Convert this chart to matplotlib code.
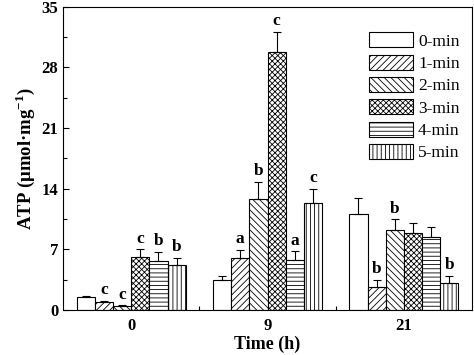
import matplotlib
matplotlib.use("Agg")
import matplotlib.pyplot as plt
import numpy as np

# ATP levels by treatment time
groups = ["0", "9", "21"]
series = ["0-min", "1-min", "2-min", "3-min", "4-min", "5-min"]
atp_0h = [1.45, 0.9, 0.45, 6.1, 5.6, 5.15]
atp_9h = [3.45, 6.0, 12.8, 29.8, 5.8, 12.4]
atp_21h = [11.05, 2.6, 9.25, 8.85, 8.45, 3.1]
err_0h = [0.1, 0.15, 0.1, 0.9, 1.1, 0.9]
err_9h = [0.5, 0.95, 2.0, 2.3, 0.95, 1.6]
err_21h = [1.9, 0.9, 1.2, 1.2, 1.1, 0.85]
sig_0h = ["", "c", "c", "c", "b", "b"]
sig_9h = ["", "a", "b", "c", "a", "c"]
sig_21h = ["", "b", "b", "", "", "b"]
hatches = ["", "/////", "\\\\\\\\\\", "xxxxxx", "----", "||||"]

plt.rcParams["font.family"] = "Liberation Serif"
plt.rcParams["mathtext.fontset"] = "custom"
plt.rcParams["mathtext.bf"] = "Liberation Serif:bold"
plt.rcParams["mathtext.rm"] = "Liberation Serif:bold"
plt.rcParams["hatch.linewidth"] = 0.6

values = np.array([atp_0h, atp_9h, atp_21h]).T
errors = np.array([err_0h, err_9h, err_21h]).T
letters = np.array([sig_0h, sig_9h, sig_21h]).T

fig = plt.figure(figsize=(4.74, 3.55), dpi=100)
ax = fig.add_axes([0.133, 0.127, 0.863, 0.854])

x = np.arange(len(groups))
width = 0.8 / len(series)
for i, name in enumerate(series):
    pos = x - 0.4 + width * (i + 0.5)
    ax.bar(pos, values[i], width, color="white", edgecolor="black",
           linewidth=0.8, hatch=hatches[i], label=name,
           yerr=[np.zeros(len(groups)), errors[i]],
           error_kw=dict(ecolor="black", elinewidth=0.8, capsize=3, capthick=0.8))
    for j in range(len(groups)):
        if letters[i][j]:
            ax.text(pos[j], values[i][j] + errors[i][j] + 0.3, letters[i][j],
                    ha="center", va="bottom", fontsize=12.5, fontweight="bold")

ax.set_xlim(-0.5, 2.5)
ax.set_ylim(0, 35)
ax.set_yticks(np.arange(0, 36, 7))
ax.set_yticks(np.arange(3.5, 35, 7), minor=True)
ax.set_xticks(x)
ax.set_xticks([0.5, 1.5], minor=True)
ax.set_xticklabels(groups)
ax.tick_params(which="both", direction="in", labelsize=12, width=0.8)
ax.tick_params(which="major", length=4)
ax.tick_params(which="minor", length=3)
ax.tick_params(axis="x", which="major", length=0, pad=6)
for lab in ax.get_xticklabels() + ax.get_yticklabels():
    lab.set_fontweight("bold")
for s in ax.spines.values():
    s.set_linewidth(0.8)

ax.set_xlabel("Time (h)", fontsize=13, fontweight="bold", labelpad=1)
ax.set_ylabel("ATP (μmol·mg$^{\\mathbf{-1}}$)", fontsize=13.5, fontweight="bold", labelpad=3)

ax.legend(loc="upper right", frameon=False, fontsize=12.5, handlelength=2.5,
          handleheight=0.95, labelspacing=0.28, handletextpad=0.3,
          bbox_to_anchor=(0.995, 0.95), borderaxespad=0.2)

fig.savefig("out.png", dpi=100)
